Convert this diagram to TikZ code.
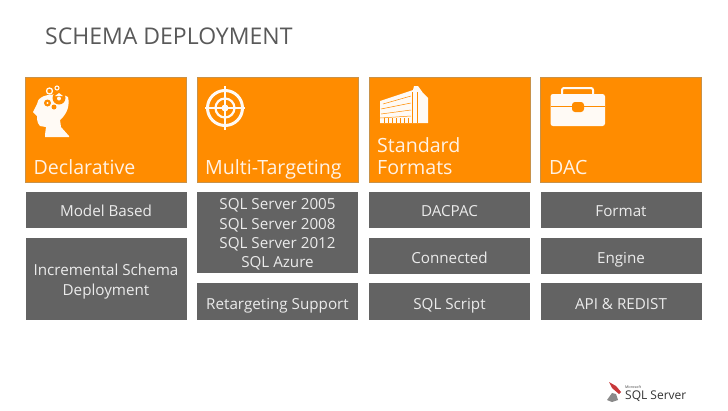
\documentclass[tikz,border=0pt]{standalone}
\usepackage{fontspec}
\setmainfont{Open Sans}
\definecolor{tileorange}{HTML}{FF8C00}
\definecolor{tileedge}{HTML}{C8924A}
\definecolor{boxgray}{HTML}{636363}
\definecolor{titlegray}{HTML}{595959}
\definecolor{logored}{HTML}{C8383A}
\definecolor{logogray}{HTML}{8A8A8A}
\newcommand{\tileY}{129.5}
\newcommand{\labelY}{174}
\tikzset{
    tile/.style={fill=tileorange,draw=tileedge,line width=0.6pt,minimum width=161pt,minimum height=105pt,inner sep=0pt},
    tilelabel/.style={anchor=base west,text=white!90!orange,font=\fontsize{19.6}{22}\selectfont,inner sep=0pt,align=left},
    graybox/.style={fill=boxgray,minimum width=161pt,inner sep=0pt,text=white!92!black,align=center,font=\fontsize{15.2}{19.2}\selectfont},
    oneline/.style={text height=#1,text depth=0pt},
    boxlabel/.style={anchor=center,text=white!92!black,align=center,inner sep=0pt},
    icon/.style={fill=white!96!orange,draw=none},
    iconline/.style={draw=white!96!orange,fill=none},
}
\begin{document}
\begin{tikzpicture}[x=1pt,y=-1pt]
        \useasboundingbox (0,0) rectangle (728,410);
        \fill[white] (0,0) rectangle (728,410);

        % Title
        \node[anchor=base west,text=titlegray,inner sep=0pt,font=\fontsize{23}{26}\selectfont] (title) at (45,44) {SCHEMA DEPLOYMENT};

        % Draw the orange tiles
        \node[tile] (declarative) at (106,\tileY) {};
        \node[tile] (targeting) at (277.5,\tileY) {};
        \node[tile] (formats) at (449.5,\tileY) {};
        \node[tile] (dac) at (621,\tileY) {};

        % Tile labels
        \node[tilelabel] (declarativeText) at (33.5,\labelY) {Declarative};
        \node[tilelabel] (targetingText) at (205,\labelY) {Multi-Targeting};
        \node[tilelabel] (formatsTop) at (377,152) {Standard};
        \node[tilelabel] (formatsText) at (377,\labelY) {Formats};
        \node[tilelabel] (dacText) at (549,\labelY) {DAC};

        % Gray boxes, first column
        \node[graybox,oneline=12pt,minimum height=36pt] (model) at (106,210) {Model Based};
        \node[graybox,minimum height=82pt] (incremental) at (106,279) {};
        \node[boxlabel,font=\fontsize{15.2}{20}\selectfont] (incrementalLabel) at (106,282) {Incremental Schema\\Deployment};

        % Gray boxes, second column
        \node[graybox,minimum height=81pt] (versions) at (277.5,232.5) {};
        \node[boxlabel,font=\fontsize{15.2}{19.2}\selectfont] (versionsLabel) at (277.5,234.5) {SQL Server 2005\\SQL Server 2008\\SQL Server 2012\\SQL Azure};
        \node[graybox,oneline=15pt,minimum height=37pt] (retargeting) at (277.5,301.5) {Retargeting Support};

        % Gray boxes, third column
        \node[graybox,oneline=12pt,minimum height=36pt] (dacpac) at (449.5,210) {DACPAC};
        \node[graybox,oneline=14pt,minimum height=36pt] (connected) at (449.5,256) {Connected};
        \node[graybox,oneline=15pt,minimum height=37pt] (script) at (449.5,301.5) {SQL Script};

        % Gray boxes, fourth column
        \node[graybox,oneline=12pt,minimum height=36pt] (format) at (621,210) {Format};
        \node[graybox,oneline=14pt,minimum height=36pt] (engine) at (621,256) {Engine};
        \node[graybox,oneline=15pt,minimum height=37pt] (redist) at (621,301.5) {API \& REDIST};

        % Head with gears
        \fill[icon] (42,97) .. controls (47,94) and (62,93) .. (68,97)
            .. controls (70,106) and (67,114) .. (60,120) -- (61,127) -- (69,136) -- (69,137) -- (45,137)
            .. controls (45,132) and (46,129) .. (46,127) -- (40,126) -- (38,123) -- (37,119) -- (37,116)
            -- (33,112) -- (37,104) .. controls (37,101) and (39,99) .. (42,97) -- cycle;
        \fill[tileorange] (47.5,103) circle (3.5);
        \fill[tileorange] (59,98) circle (6.5);
        \fill[tileorange] (54,107) circle (2.5);
        \fill[icon] (47.5,103) circle (1.2);
        \fill[icon] (59,98.5) circle (2);
        \draw[iconline,line width=1.3pt] (49.5,91) circle (3);
        \draw[iconline,line width=1.1pt] (57,88) circle (2);
        \fill[icon] (55,96) -- (63,96) -- (59,93) -- cycle;

        % Target
        \draw[iconline,line width=3pt] (225,108) circle (17.5);
        \draw[iconline,line width=2.2pt] (225,108) circle (9.5);
        \fill[icon] (225,108) circle (3.5);
        \draw[iconline,line width=2pt] (205,108) -- (245,108);
        \draw[iconline,line width=2pt] (225,86) -- (225,130);

        % Building
        \fill[icon] (380,101) -- (413,90) -- (414,86) -- (418,86) -- (423,93) -- (428,98) -- (428,123) -- (380,123) -- cycle;
        \draw[tileorange,line width=0.5pt] (383,104) -- (411,96);
        \draw[tileorange,line width=0.5pt] (381,109) -- (411,103);
        \draw[tileorange,line width=0.5pt] (381,114) -- (411,110);
        \draw[tileorange,line width=0.5pt] (380,118) -- (411,116);
        \draw[tileorange,line width=0.5pt] (412,92) -- (412,123);
        \draw[tileorange,line width=0.5pt] (417,92) -- (417,123);
        \foreach \i in {384,388,...,408}
            \draw[tileorange,line width=0.5pt] (\i,118) -- (\i,123);

        % Toolbox
        \draw[iconline,line width=2pt,rounded corners=2pt] (562,95) -- (562,88) -- (593,88) -- (593,95);
        \fill[icon,rounded corners=2.5pt] (550.5,94) rectangle (605,126);
        \draw[tileorange,line width=0.7pt] (550.5,106) -- (605,106);
        \fill[tileorange,rounded corners=3pt] (572,102) rectangle (584,112);

        % SQL Server logo
        \fill[logored] (609,382) -- (616,386) -- (621,392) -- (619,394) -- (612,388) -- cycle;
        \fill[logogray] (607,400) -- (612,393) -- (616,394) -- (618,400) -- (612,402) -- cycle;
        \node[anchor=base west,inner sep=0pt,text=black!75,font=\fontsize{3.6}{4}\selectfont] (microsoft) at (625,388) {Microsoft};
        \node[anchor=base west,inner sep=0pt,text=black!80,font=\fontsize{12}{15}\selectfont] (sqlserver) at (625,399.5) {SQL Server};
\end{tikzpicture}
\end{document}
